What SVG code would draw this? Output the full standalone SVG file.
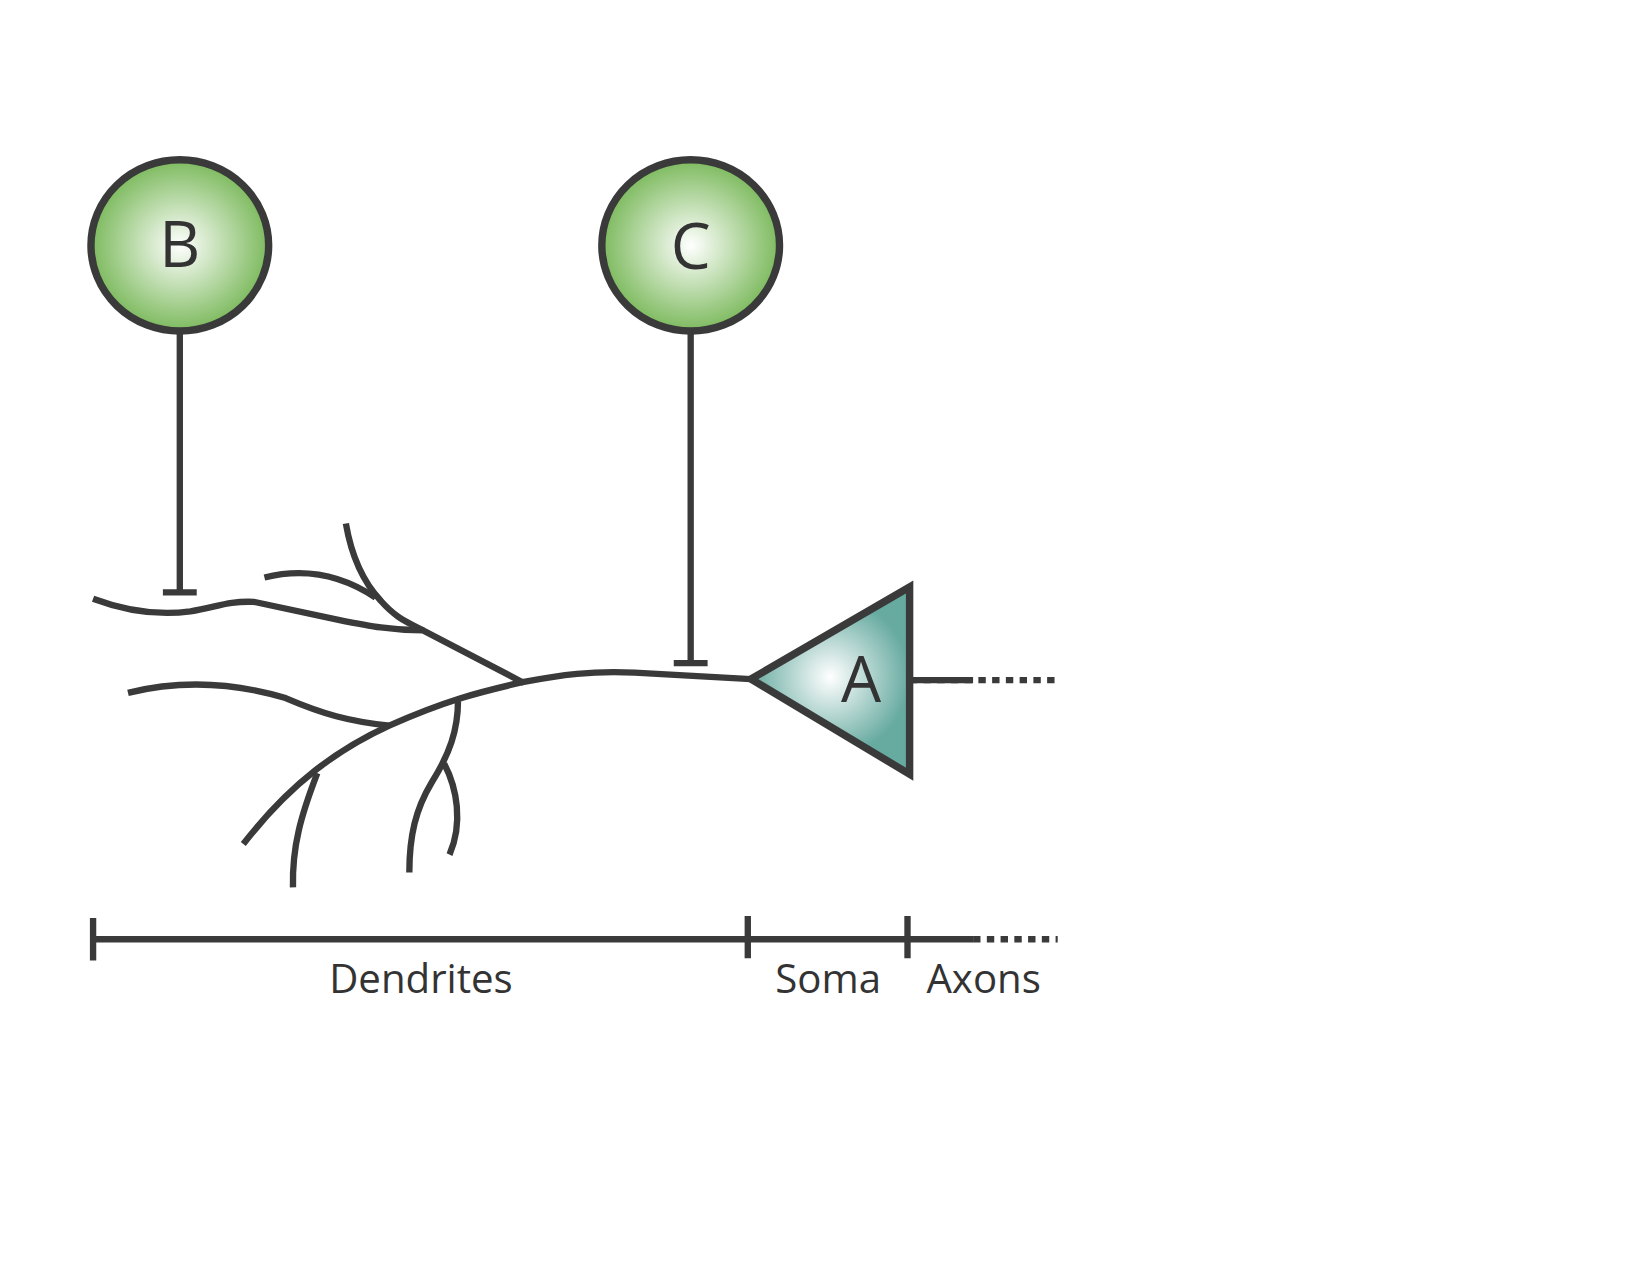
<svg xmlns="http://www.w3.org/2000/svg" width="1650" height="1275" viewBox="0 0 1650 1275">
<defs>
<radialGradient id="g" cx="0.5" cy="0.5" r="0.5"><stop offset="0" stop-color="#ffffff"/><stop offset="1" stop-color="#7dba5e"/></radialGradient>
<radialGradient id="t" gradientUnits="userSpaceOnUse" cx="785" cy="640" r="75"><stop offset="0" stop-color="#ffffff"/><stop offset="1" stop-color="#66aaa0"/></radialGradient>
<style>.s{fill:none;stroke:#3a3a3a;stroke-width:6}.l{font-family:"Open Sans","Liberation Sans",sans-serif;fill:#333}</style>
</defs>
<rect width="1650" height="1275" fill="#fff"/>
<g transform="scale(1.0577)">
<g id="connectors">
<path class="s" d="M170 314V560M154 560H186" />
<path class="s" d="M653 314V627M637 627H669"/>
<path class="s" d="M88 566C120 578 150 582 180 578C205 574 215 568 240 569L320 586C350 592 370 596 400 596L494 645C530 638 560 634 600 636L710 642"/>
<path class="s" d="M250 546C290 536 325 545 355 565"/>
<path class="s" d="M327 495C333 530 345 552 360 568C375 585 385 588 400 596"/>
<path class="s" d="M121 655C170 643 220 645 270 660C305 675 330 682 368 686"/>
<path class="s" d="M494 645C450 655 420 663 368 686C320 708 275 740 230 798"/>
<path class="s" d="M300 731C285 770 276 800 277 839"/>
<path class="s" d="M433 663C433 690 425 713 408 740C393 765 387 790 387 825"/>
<path class="s" d="M420 722C432 745 438 778 425 808"/>
<path class="s" d="M860 643H925M925 643H1000" stroke-dasharray="7 6"/>
<path class="s" d="M860 643H920"/>
<path class="s" d="M88 888H920M88 868V908M707 866V906M858 866V906"/>
<path class="s" d="M920 888H1000" stroke-dasharray="7 6"/>
</g>
<g id="B"><ellipse cx="170" cy="232" rx="84" ry="81" fill="url(#g)" stroke="#3a3a3a" stroke-width="7"/><text class="l" x="170" y="252" font-size="60" text-anchor="middle">B</text></g>
<g id="C"><ellipse cx="653" cy="232" rx="84" ry="81" fill="url(#g)" stroke="#3a3a3a" stroke-width="7"/><text class="l" x="653" y="254" font-size="60" text-anchor="middle">C</text></g>
<g id="A"><polygon points="710,642 860,555 860,732" fill="url(#t)" stroke="#3a3a3a" stroke-width="7" stroke-linejoin="miter"/><text class="l" x="814" y="664" font-size="60" text-anchor="middle">A</text></g>
<text class="l" x="398" y="939" font-size="38" text-anchor="middle">Dendrites</text>
<text class="l" x="783" y="939" font-size="38" text-anchor="middle">Soma</text>
<text class="l" x="930" y="939" font-size="38" text-anchor="middle">Axons</text>
</g>
</svg>
